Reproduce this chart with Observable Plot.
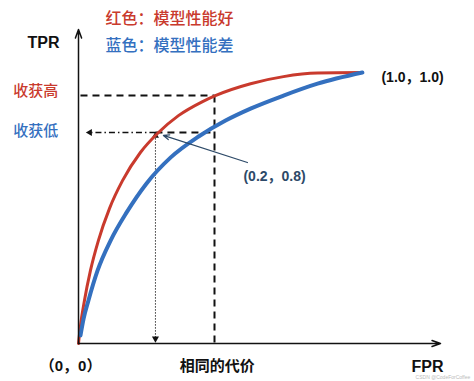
<!DOCTYPE html>
<html>
<head>
<meta charset="utf-8">
<script src="https://cdn.jsdelivr.net/npm/d3@7"></script>
<script src="https://cdn.jsdelivr.net/npm/@observablehq/plot@0.6"></script>
<style>
html,body{margin:0;padding:0;background:#fff;}
</style>
</head>
<body>
<div id="chart"></div>
<script>
// ROC curves (FPR, TPR)
const fprRed  = [0, 0.007, 0.021, 0.042, 0.070, 0.109, 0.155, 0.218, 0.278, 0.352, 0.437, 0.482, 0.606, 0.722, 0.842, 1.0];
const tprRed  = [0, 0.066, 0.159, 0.269, 0.380, 0.498, 0.601, 0.705, 0.775, 0.841, 0.893, 0.915, 0.959, 0.985, 0.998, 1.0];
const fprBlue = [0.007, 0.018, 0.035, 0.067, 0.113, 0.169, 0.239, 0.324, 0.423, 0.518, 0.606, 0.722, 0.842, 1.0];
const tprBlue = [0.030, 0.092, 0.159, 0.269, 0.380, 0.483, 0.590, 0.686, 0.764, 0.823, 0.867, 0.915, 0.959, 1.0];

// reference points
const lowPoint  = {fpr: 0.271, tpr: 0.779};
const highPoint = {fpr: 0.479, tpr: 0.915};

// labels
const legendLabels = ["红色：模型性能好", "蓝色：模型性能差"];
const yLabels = ["收获高", "收获低"];
const axisNames = ["TPR", "FPR"];
const cornerLabels = ["（0，0）", "(1.0，1.0)"];
const pointLabel = "(0.2，0.8)";
const costLabel = "相同的代价";
const watermark = "CSDN @CodeForCoffee";

const RED = "#c93a2d";
const BLUE = "#3470bf";
const CJK = "'Helvetica Neue', Helvetica, Arial, 'Liberation Sans', 'Noto Sans CJK SC', sans-serif";

const red = fprRed.map((f, i) => ({fpr: f, tpr: tprRed[i]}));
const blue = fprBlue.map((f, i) => ({fpr: f, tpr: tprBlue[i]}));

const X_MAX = 1.275, Y_MAX = 1.159;

const chart = Plot.plot({
  width: 474,
  height: 381,
  marginLeft: 78,
  marginRight: 34,
  marginTop: 29,
  marginBottom: 38,
  x: {domain: [0, X_MAX], axis: null},
  y: {domain: [0, Y_MAX], axis: null},
  style: {fontFamily: CJK, background: "#fff"},
  marks: [
    // guide lines
    Plot.link([highPoint], {x1: 0.007, y1: d => d.tpr, x2: d => d.fpr, y2: d => d.tpr, stroke: "#111", strokeWidth: 2, strokeDasharray: "7,5"}),
    Plot.link([highPoint], {x1: d => d.fpr, y1: d => d.tpr, x2: d => d.fpr, y2: 0, stroke: "#111", strokeWidth: 2, strokeDasharray: "7,5"}),
    Plot.link([lowPoint], {x1: d => d.fpr, y1: d => d.tpr, x2: highPoint.fpr, y2: d => d.tpr, stroke: "#111", strokeWidth: 2, strokeDasharray: "7,5"}),
    Plot.link([lowPoint], {x1: d => d.fpr, y1: d => d.tpr, x2: 0.045, y2: d => d.tpr, stroke: "#111", strokeWidth: 1.5, strokeDasharray: "6,3,1.5,3"}),
    Plot.link([lowPoint], {x1: d => d.fpr, y1: d => d.tpr - 0.01, x2: d => d.fpr, y2: 0.015, stroke: "#333", strokeWidth: 1, strokeDasharray: "1.5,1.5"}),
    Plot.dot([lowPoint], {x: 0.04, y: d => d.tpr, symbol: "triangle", r: 2.6, fill: "#111", stroke: "none", rotate: -90}),
    Plot.dot([lowPoint], {x: d => d.fpr, y: 0.018, symbol: "triangle", r: 2.6, fill: "#111", stroke: "none", rotate: 180}),
    Plot.dot([lowPoint], {x: d => d.fpr, y: d => d.tpr - 0.012, symbol: "triangle", r: 2.6, fill: "#111", stroke: "none"}),
    // curves
    Plot.line(red, {x: "fpr", y: "tpr", stroke: RED, strokeWidth: 3, curve: "monotone-x"}),
    Plot.line(blue, {x: "fpr", y: "tpr", stroke: BLUE, strokeWidth: 4, curve: "monotone-x"}),
    // axes
    Plot.arrow([0], {x1: 0, y1: 0, x2: X_MAX, y2: 0, stroke: "#111", strokeWidth: 1.5, headLength: 9, headAngle: 40}),
    Plot.arrow([0], {x1: 0, y1: 0, x2: 0, y2: Y_MAX, stroke: "#111", strokeWidth: 1.5, headLength: 9, headAngle: 40}),
    // annotation pointer
    Plot.arrow([lowPoint], {x1: 0.595, y1: 0.668, x2: 0.299, y2: 0.768, stroke: "#2d4a68", strokeWidth: 1.2, headLength: 8, headAngle: 45}),
    // texts
    Plot.text([legendLabels[0]], {x: 0.095, y: 1.199, text: d => d, fill: RED, fontSize: 16, textAnchor: "start", fontWeight: 500}),
    Plot.text([legendLabels[1]], {x: 0.095, y: 1.100, text: d => d, fill: BLUE, fontSize: 16, textAnchor: "start", fontWeight: 500}),
    Plot.text([yLabels[0]], {x: -0.151, y: 0.930, text: d => d, fill: RED, fontSize: 15, fontWeight: 500}),
    Plot.text([yLabels[1]], {x: -0.151, y: 0.782, text: d => d, fill: BLUE, fontSize: 15, fontWeight: 500}),
    Plot.text([axisNames[0]], {x: -0.123, y: 1.111, text: d => d, fill: "#111", fontSize: 16, fontWeight: "bold"}),
    Plot.text([axisNames[1]], {x: 1.229, y: -0.085, text: d => d, fill: "#111", fontSize: 16, fontWeight: "bold"}),
    Plot.text([cornerLabels[0]], {x: -0.028, y: -0.085, text: d => d, fill: "#111", fontSize: 15, fontWeight: "bold"}),
    Plot.text([cornerLabels[1]], {x: 1.067, y: 0.982, text: d => d, fill: "#111", fontSize: 14, fontWeight: "bold", textAnchor: "start"}),
    Plot.text([pointLabel], {x: 0.581, y: 0.616, text: d => d, fill: "#2d4a68", fontSize: 14, fontWeight: "bold", textAnchor: "start"}),
    Plot.text([costLabel], {x: 0.489, y: -0.085, text: d => d, fill: "#111", fontSize: 15, fontWeight: "bold"}),
    Plot.text([watermark], {x: 1.38, y: -0.125, text: d => d, fill: "#bbb", fontSize: 5, textAnchor: "end"})
  ]
});
document.getElementById("chart").appendChild(chart);
</script>
</body>
</html>
